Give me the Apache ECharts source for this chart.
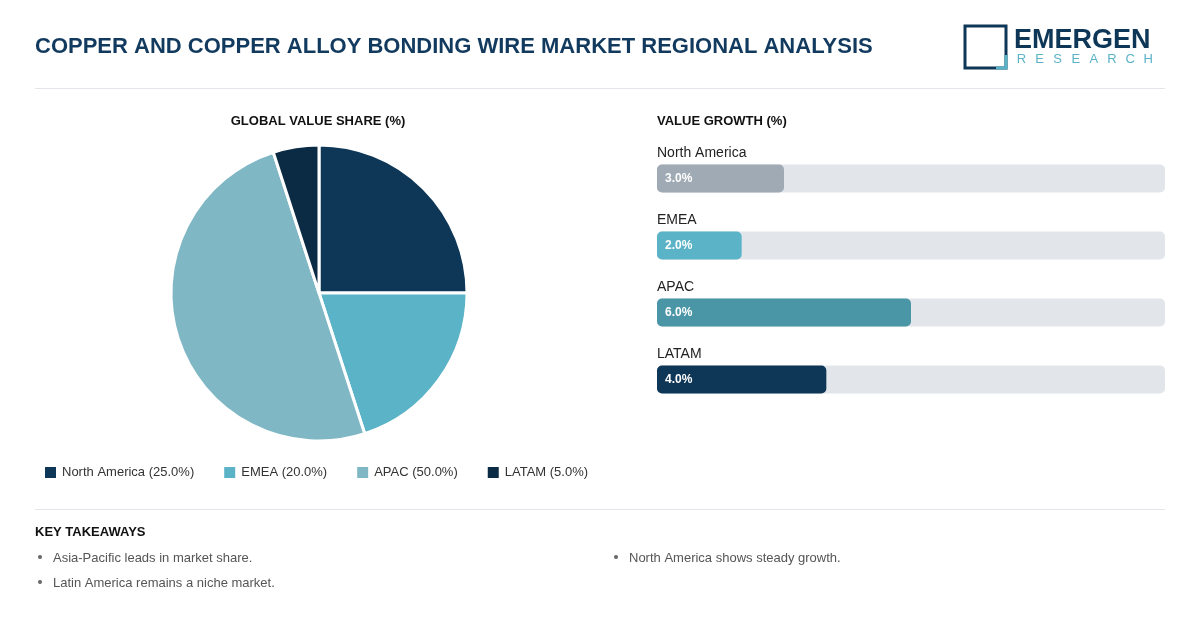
<!DOCTYPE html>
<html>
<head>
<meta charset="utf-8">
<script src="https://cdn.jsdelivr.net/npm/echarts@6/dist/echarts.min.js"></script>
<style>
html,body{margin:0;padding:0;background:#fff;}
#main{width:1200px;height:620px;}
</style>
</head>
<body>
<div id="main"></div>
<script>
const regions = ['North America', 'EMEA', 'APAC', 'LATAM'];
const shareValues = [25, 20, 50, 5];
const shareColors = ['#0d3657', '#5ab3c6', '#7fb7c5', '#0b2b45'];
const growthValues = [3, 2, 6, 4];
const growthColors = ['#a0aab4', '#5ab3c6', '#4a96a6', '#0e3657'];
const growthMax = 12;
const takeaways = ['Asia-Pacific leads in market share.', 'Latin America remains a niche market.', 'North America shows steady growth.'];

const FONT = 'Liberation Sans, Arial, sans-serif';
const chart = echarts.init(document.getElementById('main'), null, {renderer: 'canvas'});

function txt(x, y, text, size, weight, color, align) {
  return {type: 'text', x: x, y: y, style: {text: text, fill: color, fontSize: size, fontWeight: weight, fontFamily: FONT, textAlign: align || 'left', textVerticalAlign: 'middle'}};
}

const graphics = [
  txt(35, 47, 'COPPER AND COPPER ALLOY BONDING WIRE MARKET REGIONAL ANALYSIS', 22, 'bold', '#123a5e'),
  {type: 'rect', shape: {x: 35, y: 88, width: 1130, height: 1}, style: {fill: '#e3e6ea'}},
  {type: 'rect', shape: {x: 35, y: 509, width: 1130, height: 1}, style: {fill: '#e3e6ea'}},
  // logo
  {type: 'rect', shape: {x: 965, y: 26, width: 41, height: 42}, style: {fill: 'none', stroke: '#0e3657', lineWidth: 3}},
  {type: 'polyline', shape: {points: [[996, 68], [1006, 68], [1006, 55]]}, style: {fill: 'none', stroke: '#5ab3c6', lineWidth: 3}},
  txt(1014, 41, 'EMERGEN', 27, 'bold', '#0e3657'),
  // subtitles
  txt(318, 121, 'GLOBAL VALUE SHARE (%)', 13, 'bold', '#111', 'center'),
  txt(657, 121, 'VALUE GROWTH (%)', 13, 'bold', '#111'),
  txt(35, 532, 'KEY TAKEAWAYS', 13, 'bold', '#111')
];
'RESEARCH'.split('').forEach((c, i) => {
  graphics.push(txt(1021.5 + i * 18.1, 59, c, 13, 'normal', '#5ab3c6', 'center'));
});
const bulletPos = [[40, 557], [40, 582], [616, 557]];
takeaways.forEach((t, i) => {
  const [bx, by] = bulletPos[i];
  graphics.push({type: 'circle', shape: {cx: bx, cy: by, r: 2}, style: {fill: '#666'}});
  graphics.push(txt(bx + 13, by + 1, t, 13, 'normal', '#555'));
});

chart.setOption({
  animation: false,
  textStyle: {fontFamily: FONT},
  graphic: graphics,
  legend: {
    left: 43, top: 465, padding: 0, itemWidth: 13, itemHeight: 13, itemGap: 28, icon: 'rect',
    data: regions,
    formatter: name => name + ' (' + shareValues[regions.indexOf(name)].toFixed(1) + '%)',
    textStyle: {fontSize: 13, color: '#333', fontFamily: FONT}
  },
  grid: {left: 657, top: 145, width: 508, height: 268},
  xAxis: {type: 'value', min: 0, max: growthMax, show: false},
  yAxis: {type: 'category', data: regions, inverse: true, show: false},
  series: [
    {
      type: 'pie', center: [319, 293], radius: [0, 148], startAngle: 90, clockwise: true,
      label: {show: false}, labelLine: {show: false}, legendHoverLink: false,
      itemStyle: {borderColor: '#fff', borderWidth: 3},
      data: regions.map((r, i) => ({name: r, value: shareValues[i], itemStyle: {color: shareColors[i]}}))
    },
    {
      type: 'bar', barWidth: 28, barGap: '-100%', silent: true,
      data: regions.map(() => growthMax),
      itemStyle: {color: '#e2e6ea', borderRadius: 5},
      label: {show: true, position: [0, -18], formatter: p => p.name, color: '#222', fontSize: 14, fontFamily: FONT}
    },
    {
      type: 'bar', barWidth: 28, barGap: '-100%',
      data: growthValues.map((v, i) => ({value: v, itemStyle: {color: growthColors[i]}})),
      itemStyle: {borderRadius: 5},
      label: {show: true, position: 'insideLeft', offset: [3, 0], formatter: p => p.value.toFixed(1) + '%', color: '#fff', fontWeight: 'bold', fontSize: 12, fontFamily: FONT}
    }
  ]
});
</script>
</body>
</html>
